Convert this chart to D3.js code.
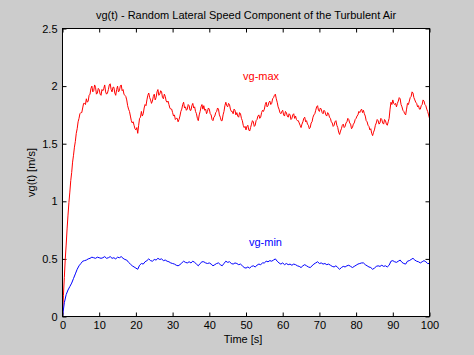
<!DOCTYPE html>
<html>
<head>
<meta charset="utf-8">
<script src="https://cdn.jsdelivr.net/npm/d3@7"></script>
<style>
  html, body { margin: 0; padding: 0; background: #cccccc; }
  svg { display: block; }
  text { font-family: "Liberation Sans", Arial, sans-serif; }
</style>
</head>
<body>
<svg id="chart" width="474" height="355"></svg>
<script>
// ---- data ----
const titleText = "vg(t) - Random Lateral Speed Component of the Turbulent Air";
const xLabel = "Time [s]";
const yLabel = "vg(t) [m/s]";
const xTicks = [0, 10, 20, 30, 40, 50, 60, 70, 80, 90, 100];
const yTicks = [0, 0.5, 1, 1.5, 2, 2.5];
const maxStep = 0.25; // seconds between vg-max samples
const minStep = 0.5;  // seconds between vg-min samples
const vgMax = [
  0, 0.18, 0.34, 0.50, 0.62, 0.76, 0.88, 0.99, 1.08, 1.18, 1.25, 1.34, 1.40, 1.47, 1.52, 1.59, 1.63, 1.69, 1.72, 1.76,
  1.77, 1.77, 1.81, 1.85, 1.85, 1.84, 1.89, 1.86, 1.87, 1.92, 1.93, 1.98, 2.00, 1.95, 1.96, 2.01, 1.99, 1.93, 1.94, 1.98,
  1.97, 1.93, 1.92, 1.97, 1.96, 1.98, 2.01, 1.95, 1.93, 1.94, 1.97, 2.01, 2.02, 1.97, 1.95, 1.99, 1.99, 1.94, 1.92, 1.97,
  2.00, 1.95, 1.96, 2.00, 2.01, 1.96, 1.97, 1.93, 1.92, 1.91, 1.88, 1.83, 1.80, 1.78, 1.74, 1.70, 1.68, 1.69, 1.66, 1.63,
  1.62, 1.64, 1.59, 1.66, 1.72, 1.73, 1.78, 1.74, 1.76, 1.81, 1.84, 1.83, 1.88, 1.92, 1.94, 1.90, 1.88, 1.85, 1.87, 1.91,
  1.93, 1.88, 1.90, 1.95, 1.97, 1.92, 1.93, 1.96, 1.95, 1.90, 1.89, 1.93, 1.91, 1.87, 1.86, 1.87, 1.84, 1.81, 1.80, 1.80,
  1.77, 1.74, 1.75, 1.71, 1.72, 1.72, 1.69, 1.71, 1.74, 1.78, 1.80, 1.84, 1.86, 1.81, 1.82, 1.79, 1.80, 1.84, 1.83, 1.79,
  1.79, 1.83, 1.85, 1.81, 1.82, 1.78, 1.76, 1.72, 1.70, 1.75, 1.78, 1.82, 1.84, 1.80, 1.83, 1.79, 1.80, 1.76, 1.78, 1.81,
  1.80, 1.76, 1.75, 1.71, 1.70, 1.73, 1.74, 1.77, 1.78, 1.81, 1.80, 1.75, 1.73, 1.70, 1.70, 1.75, 1.78, 1.83, 1.86, 1.83,
  1.82, 1.85, 1.84, 1.80, 1.78, 1.78, 1.76, 1.80, 1.79, 1.75, 1.77, 1.74, 1.73, 1.77, 1.76, 1.72, 1.70, 1.66, 1.64, 1.65,
  1.62, 1.65, 1.66, 1.62, 1.61, 1.64, 1.67, 1.70, 1.69, 1.65, 1.66, 1.70, 1.71, 1.74, 1.75, 1.72, 1.73, 1.77, 1.79, 1.78,
  1.80, 1.84, 1.86, 1.82, 1.83, 1.86, 1.87, 1.84, 1.85, 1.89, 1.90, 1.92, 1.93, 1.89, 1.86, 1.82, 1.80, 1.77, 1.76, 1.78,
  1.79, 1.75, 1.74, 1.78, 1.77, 1.74, 1.73, 1.76, 1.75, 1.71, 1.72, 1.75, 1.76, 1.72, 1.74, 1.71, 1.70, 1.70, 1.68, 1.66,
  1.64, 1.67, 1.69, 1.72, 1.73, 1.69, 1.70, 1.67, 1.66, 1.63, 1.64, 1.68, 1.69, 1.73, 1.75, 1.76, 1.79, 1.82, 1.83, 1.79,
  1.78, 1.81, 1.80, 1.77, 1.76, 1.79, 1.78, 1.75, 1.74, 1.77, 1.76, 1.73, 1.72, 1.69, 1.68, 1.65, 1.66, 1.69, 1.70, 1.66,
  1.64, 1.60, 1.58, 1.61, 1.63, 1.66, 1.67, 1.64, 1.65, 1.68, 1.69, 1.72, 1.71, 1.68, 1.67, 1.63, 1.64, 1.67, 1.68, 1.71,
  1.72, 1.74, 1.75, 1.78, 1.77, 1.79, 1.80, 1.77, 1.79, 1.76, 1.74, 1.70, 1.69, 1.66, 1.65, 1.62, 1.63, 1.59, 1.57, 1.60,
  1.62, 1.66, 1.68, 1.71, 1.70, 1.67, 1.68, 1.72, 1.71, 1.68, 1.67, 1.71, 1.70, 1.67, 1.66, 1.69, 1.72, 1.80, 1.86, 1.84,
  1.88, 1.85, 1.84, 1.85, 1.82, 1.85, 1.87, 1.90, 1.89, 1.84, 1.82, 1.79, 1.78, 1.76, 1.75, 1.80, 1.85, 1.84, 1.87, 1.90,
  1.91, 1.95, 1.94, 1.90, 1.88, 1.86, 1.85, 1.82, 1.83, 1.80, 1.80, 1.83, 1.84, 1.88, 1.87, 1.84, 1.83, 1.80, 1.78, 1.75,
  1.72
];
const vgMin = [
  0, 0.12, 0.19, 0.23, 0.26, 0.29, 0.33, 0.37, 0.41, 0.44,
  0.46, 0.48, 0.485, 0.49, 0.50, 0.505, 0.515, 0.51, 0.505, 0.515,
  0.51, 0.505, 0.51, 0.52, 0.505, 0.51, 0.52, 0.505, 0.51, 0.50,
  0.515, 0.51, 0.52, 0.505, 0.495, 0.49, 0.47, 0.455, 0.44, 0.43,
  0.42, 0.41, 0.445, 0.46, 0.455, 0.475, 0.485, 0.50, 0.485, 0.48,
  0.495, 0.49, 0.505, 0.495, 0.50, 0.485, 0.49, 0.48, 0.475, 0.465,
  0.46, 0.455, 0.445, 0.44, 0.45, 0.465, 0.48, 0.47, 0.465, 0.475,
  0.465, 0.48, 0.47, 0.455, 0.44, 0.46, 0.475, 0.475, 0.465, 0.46,
  0.465, 0.455, 0.44, 0.45, 0.46, 0.465, 0.45, 0.44, 0.46, 0.48,
  0.47, 0.475, 0.46, 0.455, 0.465, 0.46, 0.45, 0.455, 0.44, 0.425,
  0.42, 0.43, 0.42, 0.435, 0.44, 0.43, 0.445, 0.455, 0.45, 0.465,
  0.465, 0.48, 0.475, 0.485, 0.48, 0.49, 0.50, 0.48, 0.465, 0.455,
  0.465, 0.45, 0.46, 0.45, 0.455, 0.445, 0.455, 0.45, 0.44, 0.435,
  0.425, 0.44, 0.45, 0.44, 0.43, 0.425, 0.44, 0.455, 0.465, 0.475,
  0.46, 0.465, 0.455, 0.46, 0.45, 0.455, 0.445, 0.435, 0.43, 0.44,
  0.425, 0.41, 0.425, 0.435, 0.43, 0.44, 0.445, 0.435, 0.425, 0.435,
  0.445, 0.455, 0.46, 0.465, 0.465, 0.45, 0.44, 0.43, 0.425, 0.41,
  0.42, 0.435, 0.44, 0.435, 0.445, 0.435, 0.44, 0.43, 0.445, 0.48,
  0.485, 0.475, 0.47, 0.48, 0.49, 0.47, 0.46, 0.455, 0.48, 0.485,
  0.495, 0.505, 0.49, 0.48, 0.475, 0.465, 0.475, 0.485, 0.475, 0.46,
  0.46
];
const seriesNames = ["vg-max", "vg-min"];
const seriesColors = ["#ff0000", "#0000ff"];
const labelPos = [[54.1, 2.05], [55.3, 0.608]]; // [time, value] centre/baseline of each label

// ---- layout ----
const svg = d3.select("#chart");
const W = 474, H = 355;
const pLeft = 62.5, pRight = 429.5, pTop = 28.5, pBottom = 316.5;

svg.append("rect").attr("width", W).attr("height", H).attr("fill", "#cccccc");
svg.append("rect").attr("x", pLeft).attr("y", pTop)
  .attr("width", pRight - pLeft).attr("height", pBottom - pTop).attr("fill", "#ffffff");

const x = d3.scaleLinear().domain([0, 100]).range([pLeft, pRight]);
const y = d3.scaleLinear().domain([0, 2.5]).range([pBottom, pTop]);

const fmt = d => String(d);
const styleAxis = g => {
  g.select(".domain").remove();
  g.selectAll(".tick line").attr("stroke", "#000").attr("stroke-width", 1);
  g.selectAll("text").attr("font-size", 11).attr("fill", "#000")
    .style("font-family", "'Liberation Sans', Arial, sans-serif");
};

svg.append("g").attr("transform", `translate(0,${pBottom})`)
  .call(d3.axisBottom(x).tickValues(xTicks).tickFormat(fmt).tickSize(-4).tickPadding(5))
  .call(styleAxis);
svg.append("g").attr("transform", `translate(0,${pTop})`)
  .call(d3.axisTop(x).tickValues(xTicks).tickFormat("").tickSize(-4))
  .call(styleAxis);
svg.append("g").attr("transform", `translate(${pLeft},0)`)
  .call(d3.axisLeft(y).tickValues(yTicks).tickFormat(fmt).tickSize(-4).tickPadding(5))
  .call(styleAxis);
svg.append("g").attr("transform", `translate(${pRight},0)`)
  .call(d3.axisRight(y).tickValues(yTicks).tickFormat("").tickSize(-4))
  .call(styleAxis);

// lines
const seriesData = [[vgMax, maxStep], [vgMin, minStep]];
seriesData.forEach(([vals, step], k) => {
  const line = d3.line().x((d, i) => x(i * step)).y(d => y(d));
  svg.append("path").datum(vals)
    .attr("d", line)
    .attr("fill", "none")
    .attr("stroke", seriesColors[k])
    .attr("stroke-width", 1);
});

// frame
svg.append("rect").attr("x", pLeft).attr("y", pTop)
  .attr("width", pRight - pLeft).attr("height", pBottom - pTop)
  .attr("fill", "none").attr("stroke", "#000").attr("stroke-width", 1);

// series labels
seriesNames.forEach((n, k) => {
  svg.append("text").attr("x", x(labelPos[k][0])).attr("y", y(labelPos[k][1]))
    .attr("text-anchor", "middle").attr("font-size", 11)
    .attr("fill", seriesColors[k]).text(n);
});

// title and axis labels
svg.append("text").attr("x", (pLeft + pRight) / 2).attr("y", 19)
  .attr("text-anchor", "middle").attr("font-size", 11).attr("fill", "#000").text(titleText);
svg.append("text").attr("x", (pLeft + pRight) / 2 - 3).attr("y", 343)
  .attr("text-anchor", "middle").attr("font-size", 11).attr("fill", "#000").text(xLabel);
svg.append("text").attr("transform", `translate(35,${(pTop + pBottom) / 2}) rotate(-90)`)
  .attr("text-anchor", "middle").attr("font-size", 11).attr("fill", "#000").text(yLabel);
</script>
</body>
</html>
